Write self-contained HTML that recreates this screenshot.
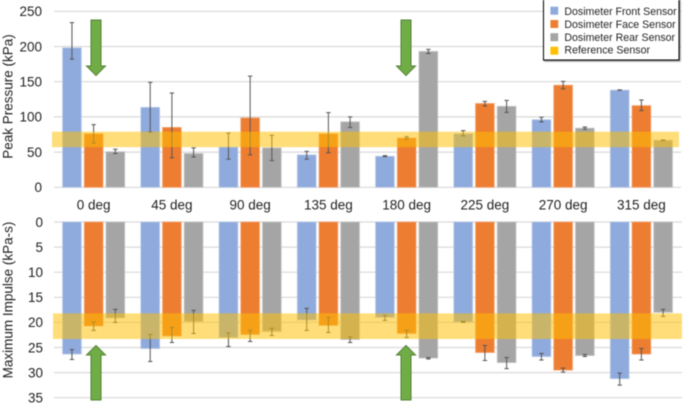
<!DOCTYPE html>
<html lang="en">
<head>
<meta charset="utf-8">
<title>Dosimeter Peak Pressure and Maximum Impulse</title>
<style>
html,body{margin:0;padding:0;background:#fff;}
body{width:685px;height:404px;overflow:hidden;}
svg{display:block;font-family:"Liberation Sans",sans-serif;filter:blur(0.45px);}
text{fill:#1f1f1f;}
</style>
</head>
<body>
<svg id="chart" xmlns="http://www.w3.org/2000/svg" width="685" height="404" viewBox="0 0 685 404">
  <defs>
    <filter id="legendShadow" x="-10%" y="-10%" width="125%" height="125%">
      <feDropShadow dx="1" dy="1" stdDeviation="0.8" flood-color="#000" flood-opacity="0.5"/>
    </filter>
  </defs>
  <g id="grid"></g>
  <g id="bars"></g>
  <g id="errors"></g>
  <g id="bands"></g>
  <g id="ticks"></g>

  <text transform="translate(12.5,96.5) rotate(-90)" text-anchor="middle" font-size="13.5">Peak Pressure (kPa)</text>
  <text transform="translate(12.5,300) rotate(-90)" text-anchor="middle" font-size="13.5">Maximum Impulse (kPa-s)</text>

  <polygon points="91,20 101,20 101,66 105.5,66 96,75.5 86.5,66 91,66" fill="#70ad47" stroke="#548235" stroke-width="1"/>
  <polygon points="401,20 411,20 411,66 415.5,66 406,75.5 396.5,66 401,66" fill="#70ad47" stroke="#548235" stroke-width="1"/>
  <polygon points="91,400 101,400 101,355 105.5,355 96,345.5 86.5,355 91,355" fill="#70ad47" stroke="#548235" stroke-width="1"/>
  <polygon points="401,400 411,400 411,355 415.5,355 406,345.5 396.5,355 401,355" fill="#70ad47" stroke="#548235" stroke-width="1"/>

  <g>
    <rect x="543.5" y="-3" width="135.5" height="63" fill="#fff" stroke="#000" stroke-width="1" filter="url(#legendShadow)"/>
    <rect x="550.4" y="6.7" width="7.8" height="8" fill="#8faadc"/>
    <text x="564.4" y="14.8" font-size="11" textLength="112.3" lengthAdjust="spacingAndGlyphs">Dosimeter Front Sensor</text>
    <rect x="550.4" y="20" width="7.8" height="8" fill="#ed7d31"/>
    <text x="564.4" y="28" font-size="11" textLength="111.3" lengthAdjust="spacingAndGlyphs">Dosimeter Face Sensor</text>
    <rect x="550.4" y="33.2" width="7.8" height="8" fill="#a5a5a5"/>
    <text x="564.4" y="40.8" font-size="11" textLength="110.7" lengthAdjust="spacingAndGlyphs">Dosimeter Rear Sensor</text>
    <rect x="550.4" y="46.7" width="7.8" height="8" fill="#ffc000"/>
    <text x="564.4" y="53.5" font-size="11" textLength="85.7" lengthAdjust="spacingAndGlyphs">Reference Sensor</text>
  </g>
</svg>
<script>
const categories = ["0 deg","45 deg","90 deg","135 deg","180 deg","225 deg","270 deg","315 deg"];
const pressureTicks = [0,50,100,150,200,250];
const impulseTicks = [0,5,10,15,20,25,30,35];
const referencePressure = [57,79];
const referenceImpulse = [18.2,23.3];

const pressureFront = [198,113.5,57,46,44,76,96,138];
const pressureFrontLow = [182,78.5,40,40,43.5,73,93,137.8];
const pressureFrontHigh = [234,149,77,51,45,80.5,99.5,138.3];
const pressureFace = [76,85,98.5,76,70,119,145,116];
const pressureFaceLow = [63,42,46,49,68.5,115.5,140,109];
const pressureFaceHigh = [89,134,158,106,72,122,150.5,124];
const pressureRear = [50.5,48,56,93,193,115,84,66.8];
const pressureRearLow = [48,43,38,85,190,106.5,82.4,66.4];
const pressureRearHigh = [54,56,74,100,196,123.5,85.7,67.2];

const impulseFront = [26.3,25.2,23,19.5,19,19.9,26.8,31.2];
const impulseFrontLow = [25.4,22.4,22.1,17.2,18.6,19.8,26.2,30.1];
const impulseFrontHigh = [27.4,27.8,24.8,21.6,19.6,20,27.5,32.5];
const impulseFace = [20.7,22.7,22.4,20.6,22.2,26,29.5,26.3];
const impulseFaceLow = [19.9,21,21.6,19,21.6,24.6,29.1,25.2];
const impulseFaceHigh = [21.6,24,23.8,22,23,27.6,29.9,27.5];
const impulseRear = [19.1,19.8,21.8,23.4,27.1,28,26.6,18];
const impulseRearLow = [17.4,17.6,21.2,22.9,27,27,26.4,17.4];
const impulseRearHigh = [20,22.2,22.6,24,27.3,29.2,26.8,18.8];

const NS = "http://www.w3.org/2000/svg";
function make(tag, attrs, parent, content) {
  const el = document.createElementNS(NS, tag);
  for (const k in attrs) el.setAttribute(k, attrs[k]);
  if (content !== undefined) el.textContent = content;
  parent.appendChild(el);
  return el;
}
const gridG = document.getElementById("grid");
const barsG = document.getElementById("bars");
const errorsG = document.getElementById("errors");
const bandsG = document.getElementById("bands");
const ticksG = document.getElementById("ticks");

const barW = 18.7, barStep = 21.7, groupStep = 78.25;
function xBar(cat, series) { return 62.6 + cat * groupStep + series * barStep; }
function xCenter(cat) { return xBar(cat, 1) + barW / 2; }
function yPressure(v) { return 187.3 - v * (176 / 250); }
function yImpulse(v) { return 222 + v * (175.7 / 35); }

const fills = ["#8faadc","#ed7d31","#a5a5a5"];
const edges = ["#b4c7e7","#f4a26e","#c4c4c4"];

function drawPanel(prefix, yFn, ticks, series, lows, highs, band, tickX, xEnd, bandX0, bandX1) {
  ticks.forEach(function (t) {
    const line = make("line", {x1:54, x2:xEnd, y1:yFn(t), y2:yFn(t), stroke:"#d9d9d9", "stroke-width":1.2}, gridG);
    
    
    const label = make("text", {x:tickX, y:yFn(t) + 4.8, "text-anchor":"end", "font-size":13.5}, ticksG, String(t));
    
    
  });
  series.forEach(function (vals, s) {
    vals.forEach(function (v, c) {
      const y0 = yFn(0), y1 = yFn(v);
      const bar = make("rect", {x:xBar(c, s), y:Math.min(y0, y1), width:barW, height:Math.abs(y1 - y0), fill:fills[s], stroke:edges[s], "stroke-width":0.8}, barsG);
      
      
      const cx = xBar(c, s) + barW / 2;
      const yl = yFn(lows[s][c]), yh = yFn(highs[s][c]);
      const err = make("path", {d:"M"+(cx-2.2)+" "+yl+"H"+(cx+2.2)+"M"+(cx-2.2)+" "+yh+"H"+(cx+2.2)+"M"+cx+" "+yl+"V"+yh, stroke:"#555", "stroke-width":1, fill:"none"}, errorsG);
      
      
    });
  });
  const by0 = yFn(band[0]), by1 = yFn(band[1]);
  const rect = make("rect", {x:bandX0, width:bandX1 - bandX0, y:Math.min(by0, by1), height:Math.abs(by1 - by0), fill:"#ffc000", "fill-opacity":0.52}, bandsG);
  
  
}

drawPanel("pressure", yPressure, pressureTicks,
  [pressureFront, pressureFace, pressureRear],
  [pressureFrontLow, pressureFaceLow, pressureRearLow],
  [pressureFrontHigh, pressureFaceHigh, pressureRearHigh],
  referencePressure, 42, 681, 52, 679);

drawPanel("impulse", yImpulse, impulseTicks,
  [impulseFront, impulseFace, impulseRear],
  [impulseFrontLow, impulseFaceLow, impulseRearLow],
  [impulseFrontHigh, impulseFaceHigh, impulseRearHigh],
  referenceImpulse, 43, 682, 53, 682);

categories.forEach(function (name, c) {
  const label = make("text", {x:xCenter(c), y:209.5, "text-anchor":"middle", "font-size":13.5}, ticksG, name);
  
  
});
</script>
</body>
</html>
